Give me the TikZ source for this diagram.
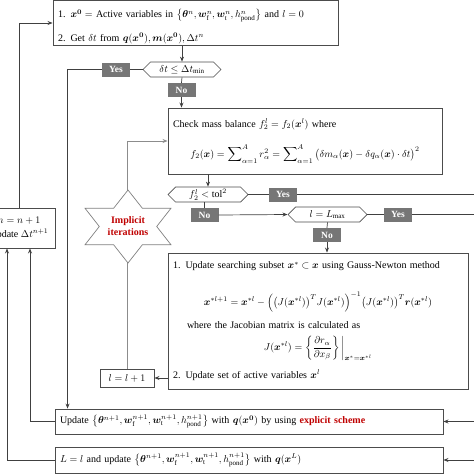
\documentclass[tikz,border=0pt]{standalone}
\usepackage{amsmath,amssymb}
\usepackage{bm}
\usepackage{fontspec}
\setmainfont{Liberation Serif}
\usepackage{xcolor}
\usetikzlibrary{shapes.geometric, shapes.symbols, arrows.meta, positioning, calc}
\definecolor{darkred}{RGB}{192,0,0}
\definecolor{answergray}{RGB}{118,118,118}
\newcommand{\xvec}{\bm{x}}
\newcommand{\statevars}[1]{\big\{\bm{\theta}^{#1},\bm{w}_\mathrm{f}^{#1},\bm{w}_\mathrm{t}^{#1},h_\mathrm{pond}^{#1}\big\}}

\begin{document}
\begin{tikzpicture}[
    x=1pt, y=-1pt,
    font=\fontsize{10}{12}\selectfont,
    box/.style = {rectangle, draw=black!70, line width=0.9pt, fill=white, align=left, inner xsep=5pt, inner ysep=2pt},
    gate/.style = {signal, signal to=west and east, draw=black!70, line width=0.7pt, fill=white, minimum height=15pt, inner sep=1pt},
    answer/.style = {rectangle, fill=answergray, text=white, font=\fontsize{9.5}{10}\selectfont\bfseries, minimum width=28pt, minimum height=14pt, inner sep=0pt},
    arrow/.style = {-{Stealth[length=5pt, width=4pt]}, draw=black!75, line width=0.7pt},
    link/.style = {draw=black!75, line width=0.7pt},
    loopline/.style = {-{Stealth[length=5pt, width=4pt]}, draw=black!45, line width=0.7pt}
]
    \useasboundingbox (0,0) rectangle (474,474);
    \clip (0,0) rectangle (474,474);

    \node[box, minimum width=285pt, minimum height=44pt, text width=275pt, inner ysep=1pt] (init) at (195.5,23)
        {\rule{0pt}{16pt}1.\enspace $\xvec^{\bm{0}} =$ Active variables in $\statevars{n}$ and $l=0$\\[10pt]
         2.\enspace Get $\delta t$ from $\bm{q}(\xvec^{\bm{0}}),\bm{m}(\xvec^{\bm{0}}),\Delta t^n$\rule[-3pt]{0pt}{3pt}};
    \node[gate, minimum width=78pt] (dt) at (182,69.5) {$\delta t\le\Delta t_\mathrm{min}$};
    \node[answer] (yesdt) at (116,69.5) {Yes};
    \node[answer] (nodt) at (181.5,90) {No};
    \node[box, minimum width=274pt, minimum height=66pt, text width=264pt] (mass) at (305,141)
        {Check mass balance $f_2^l=f_2(\xvec^l)$ where\\[14pt]
         \makebox[\hsize]{$f_2(\xvec)=\displaystyle\sum\nolimits_{\alpha=1}^{A} r_\alpha^2=\sum\nolimits_{\alpha=1}^{A}\big(\delta m_\alpha(\xvec)-\delta q_\alpha(\xvec)\cdot\delta t\big)^2$}};
    \node[gate, minimum width=80pt] (tol) at (208,194.5) {$f_2^l<\mathrm{tol}^2$};
    \node[answer] (yestol) at (283,194.5) {Yes};
    \node[answer] (notol) at (204.5,215) {No};
    \node[gate, minimum width=79pt] (lmax) at (327.5,214.5) {$l=L_\mathrm{max}$};
    \node[answer] (yeslmax) at (398,214.5) {Yes};
    \node[answer] (nolmax) at (327,235) {No};
    \node[box, minimum width=300pt, minimum height=136pt, text width=290pt] (gauss) at (318,321)
        {1.\enspace Update searching subset $\xvec^*\subset\xvec$ using Gauss-Newton method\\[20pt]
         \makebox[\hsize]{$\xvec^{*l+1}=\xvec^{*l}-\Big(\big(J(\xvec^{*l})\big)^T J(\xvec^{*l})\Big)^{-1}\big(J(\xvec^{*l})\big)^T\bm{r}(\xvec^{*l})$}\\[9pt]
         \hspace*{14pt}where the Jacobian matrix is calculated as\\[6pt]
         \makebox[\hsize]{$J(\xvec^{*l})=\left\{\dfrac{\partial r_\alpha}{\partial x_\beta}\right\}\bigg|_{\xvec^*=\xvec^{*l}}$}\\[8pt]
         2.\enspace Update set of active variables $\xvec^l$};
    \node[box, align=center, minimum width=54pt, minimum height=18pt] (lnext) at (127,378) {$l=l+1$};
    \node[box, minimum width=388pt, minimum height=25pt, text width=378pt] (explicit) at (249,421.5)
        {Update $\statevars{n+1}$ with $\bm{q}(\xvec^{\bm{0}})$ by using \textcolor{darkred}{\textbf{explicit scheme}}};
    \node[box, minimum width=388pt, minimum height=26pt, text width=378pt] (final) at (249,460)
        {$L=l$ and update $\statevars{n+1}$ with $\bm{q}(\xvec^L)$};
    \node[box, align=center, minimum width=72pt, minimum height=40pt] (nextn) at (19,228)
        {$n=n+1$\\[2pt] Update $\Delta t^{n+1}$};
    \coordinate (rin) at (485,0);
    \coordinate (rout) at (495,0);

    \draw[arrow] (init.south -| dt.north) -- (dt.north);
    \draw[link] (dt.west) -- (yesdt.east);
    \draw[arrow] (yesdt.west) -| ([xshift=13pt]explicit.north west);
    \draw[link] (dt.south) -- (nodt.north);
    \draw[arrow] (nodt.south) -- (mass.north -| nodt.south);
    \draw[arrow] (mass.south -| tol.north) -- (tol.north);
    \draw[link] (tol.east) -- (yestol.west);
    \draw[arrow] (yestol.east) -| (rout |- final.east) -- (final.east);
    \draw[link] (tol.south -| notol.north) -- (notol.north);
    \draw[arrow] (notol.east) -- (lmax.west);
    \draw[link] (lmax.east) -- (yeslmax.west);
    \draw[arrow] (yeslmax.east) -| (rin |- explicit.east) -- (explicit.east);
    \draw[link] (lmax.south) -- (nolmax.north);
    \draw[arrow] (nolmax.south) -- (gauss.north -| nolmax.south);
    \draw[arrow] (gauss.west |- lnext.east) -- (lnext.east);
    \draw[loopline] (lnext.north) |- (mass.west);
    \draw[arrow] (explicit.west) -| ([xshift=11pt]nextn.south);
    \draw[arrow] (final.west) -| ([xshift=-12pt]nextn.south);
    \draw[arrow] (nextn.north) |- (init.west);

    \begin{scope}[shift={(128,226.5)}, xscale=1.36]
        \draw[draw=black!50, line width=0.7pt, fill=white] (90:36.5)
            \foreach \a in {60,0,...,-240} {-- (\a:21.1) -- (\a-30:36.5)} -- cycle;
    \end{scope}
    \node[align=center, text=darkred, font=\fontsize{10}{12}\selectfont\bfseries] (implicit) at (128,226.5) {Implicit\\iterations};
\end{tikzpicture}
\end{document}
